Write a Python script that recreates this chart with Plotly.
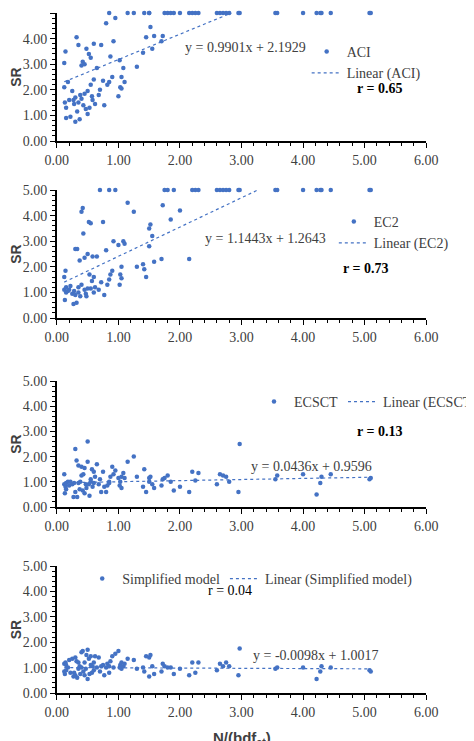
import plotly.graph_objects as go

X = [0.12,0.12,0.13,0.14,0.15,0.15,0.18,0.20,0.22,0.25,
     0.27,0.28,0.30,0.30,0.32,0.33,0.35,0.35,0.37,0.38,
     0.40,0.40,0.42,0.43,0.45,0.45,0.47,0.48,0.50,0.50,
     0.52,0.53,0.55,0.55,0.57,0.58,0.60,0.60,0.62,0.65,
     0.68,0.70,0.72,0.75,0.77,0.80,0.82,0.85,0.85,0.87,
     0.90,0.92,0.95,1.00,1.02,1.03,1.05,1.05,1.08,1.10,
     1.15,1.25,1.30,1.40,1.42,1.45,1.50,1.50,1.52,1.55,
     1.58,1.70,1.72,1.75,1.80,1.85,1.90,2.00,2.15,2.20,
     2.25,2.30,2.60,2.65,2.70,2.75,2.80,2.95,2.97,3.55,
     3.58,4.00,4.22,4.28,4.30,4.45,5.08,5.10]
ACI = [3.05,2.1,1.5,3.5,0.9,1.3,2.3,1.6,0.95,1.95,
       1.6,1.45,0.75,1.7,4.05,1.15,3.75,1.5,0.85,1.8,
       2.95,1.65,3.1,1.4,1.85,3.0,1.25,3.6,1.95,1.05,
       3.4,1.3,3.25,2.2,1.75,1.6,3.8,2.4,1.45,2.85,
       1.8,2.0,3.75,2.35,1.4,4.6,2.2,2.3,5.0,3.3,
       2.5,3.9,4.8,1.75,3.15,2.1,2.5,2.05,2.85,2.3,
       5,5,2.9,3.45,5,4.05,5,5,4.45,3.6,
       4.1,3.9,4.1,5,5,5,5,5,5,5,
       5,5,5,5,5,5,5,5,5,5,
       5,5,5,5,5,5,5,5]
EC2 = [1.6,1.1,0.7,1.85,1.2,1.0,1.05,1.1,1.25,0.95,
       0.55,1.05,2.7,0.9,0.6,2.7,1.0,1.2,2.25,0.85,
       4.15,1.3,4.3,3.3,2.35,1.1,0.95,0.85,2.5,1.15,
       3.75,1.7,3.7,1.15,1.45,2.4,1.0,1.6,1.2,2.4,
       1.1,5.0,1.4,3.75,0.9,2.65,1.3,1.5,5.0,1.7,
       1.85,3.0,5.0,2.85,1.3,1.7,1.55,2.0,3.0,2.9,
       4.5,4.15,2.0,2.1,1.9,1.6,3.5,2.8,3.65,3.2,
       2.2,2.3,4.4,5,5,3.85,5,4.2,2.3,5,
       5,5,5,5,5,5,5,5,5,5,
       5,5,5,5,5,5,5,5]
ECSCT = [1.3,0.9,0.55,0.8,0.95,0.7,1.0,0.85,1.0,0.9,
         0.4,0.95,2.3,0.6,1.85,0.4,1.65,0.95,0.7,1.0,
         1.6,1.25,0.65,1.3,1.55,0.55,0.9,0.75,1.8,2.6,
         0.9,0.45,1.0,1.1,1.5,0.8,1.4,0.95,1.2,1.7,
         0.9,1.1,0.6,1.4,0.8,0.6,0.85,1.0,0.95,1.2,
         1.6,1.3,1.45,1.15,0.85,1.0,1.2,0.75,1.35,1.15,
         1.8,2.0,1.2,0.8,1.5,0.6,1.0,1.15,1.2,0.9,
         0.75,0.85,1.1,1.15,1.25,1.0,0.65,0.8,0.6,1.4,
         1.05,1.35,0.9,1.3,1.25,1.2,1.0,0.6,2.5,1.1,
         1.25,1.3,0.5,0.95,1.2,1.3,1.1,1.15]
SIMP = [1.15,0.85,0.75,1.2,0.9,1.1,1.0,1.3,0.8,1.35,
        0.65,0.8,1.4,0.7,1.25,0.6,1.2,0.95,1.05,0.75,
        1.6,1.0,1.65,0.85,1.2,0.7,0.95,1.5,0.55,1.7,
        1.35,0.75,1.1,1.45,0.8,1.05,1.2,0.9,1.45,1.0,
        1.4,0.85,1.05,1.1,0.7,1.0,1.15,0.8,1.05,1.25,
        1.45,1.0,1.55,1.65,1.0,1.1,1.2,0.95,1.05,1.15,
        1.35,1.3,0.95,1.0,0.85,1.45,0.65,1.4,1.5,1.05,
        0.75,0.85,1.15,1.05,1.0,1.0,0.75,0.95,0.7,1.2,
        0.8,1.2,0.9,1.15,1.05,1.2,1.05,0.7,1.75,0.95,
        1.0,1.0,0.55,0.85,1.05,1.0,0.9,0.85]

NAMES = ["ACI", "EC2", "ECSCT", "Simplified model"]
SLOPES = [0.9901, 1.1443, 0.0436, -0.0098]
INTERCEPTS = [2.1929, 1.2643, 0.9596, 1.0017]
EQ_TEXT = ["y = 0.9901x + 2.1929", "y = 1.1443x + 1.2643",
           "y = 0.0436x + 0.9596", "y = -0.0098x + 1.0017"]
R_TEXT = ["r = 0.65", "r = 0.73", "r = 0.13", "r = 0.04"]
TICKS = [0, 1, 2, 3, 4, 5, 6]
TICKLBL = ["0.00", "1.00", "2.00", "3.00", "4.00", "5.00", "6.00"]
YTICKS = [0, 1, 2, 3, 4, 5]
YLBL = ["0.00", "1.00", "2.00", "3.00", "4.00", "5.00"]
SERIES = [ACI, EC2, ECSCT, SIMP]

W, H = 474, 741
x0p, x1p = 54, 462
panels = [(5, 133), (182, 310), (373, 499), (558, 685)]
BLUE = "#4472C4"
SERIF = "Liberation Serif"

fig = go.Figure()
layout = dict(width=W, height=H, margin=dict(l=0, r=0, t=0, b=0),
              plot_bgcolor="white", paper_bgcolor="white", showlegend=True)

legend_specs = [
    dict(x=330/W, y=1-28/H, orientation="v"),
    dict(x=360/W, y=1-198/H, orientation="v"),
    dict(x=272/W, y=1-378/H, orientation="h"),
    dict(x=82/W, y=1-555/H, orientation="h"),
]
eq_pos = [(262, 40), (285, 230), (335, 459), (340, 647)]
r_pos = [(410, 80), (395, 260), (410, 424), (245, 582)]

for i in range(4):
    sfx = "" if i == 0 else str(i + 1)
    lg = "legend" if i == 0 else "legend" + str(i + 1)
    top, bot = panels[i]
    ys = SERIES[i]
    fig.add_trace(go.Scatter(x=X, y=ys, mode="markers", name=NAMES[i],
                             marker=dict(color=BLUE, size=4.5), cliponaxis=False,
                             xaxis="x" + sfx, yaxis="y" + sfx, legend=lg))
    lx = [min(X), max(X)]
    ly = [SLOPES[i] * v + INTERCEPTS[i] for v in lx]
    if ly[1] > 5:
        lx[1] = (5 - INTERCEPTS[i]) / SLOPES[i]
        ly[1] = 5
    fig.add_trace(go.Scatter(x=lx, y=ly, mode="lines", name="Linear (" + NAMES[i] + ")",
                             line=dict(color=BLUE, width=1.2, dash="dot"),
                             xaxis="x" + sfx, yaxis="y" + sfx, legend=lg))
    layout["xaxis" + sfx] = dict(domain=[x0p/W, x1p/W], range=[0, 6], anchor="y" + sfx,
                                 automargin=False,
                                 tickvals=TICKS, ticktext=TICKLBL, showgrid=False,
                                 showline=True, linecolor="black", linewidth=1.5,
                                 ticks="outside", ticklen=5, tickcolor="black",
                                 minor=dict(ticks="outside", ticklen=3, dtick=0.2, tickcolor="black"),
                                 tickfont=dict(family=SERIF, size=14, color="#404040"), zeroline=False)
    layout["yaxis" + sfx] = dict(domain=[1-bot/H, 1-top/H], range=[0, 5], anchor="x" + sfx,
                                 automargin=False,
                                 tickvals=YTICKS, ticktext=YLBL, showgrid=False,
                                 showline=True, linecolor="black", linewidth=1.5,
                                 ticks="outside", ticklen=5, tickcolor="black",
                                 minor=dict(ticks="outside", ticklen=3, dtick=0.2, tickcolor="black"),
                                 tickfont=dict(family=SERIF, size=14, color="#404040"), zeroline=False,
                                 title=dict(text="<b>SR</b>", standoff=0,
                                            font=dict(family="Liberation Sans", size=14, color="#404040")))
    ls = legend_specs[i]
    layout[lg] = dict(x=ls["x"], y=ls["y"], xanchor="left", yanchor="top",
                      orientation=ls["orientation"], bgcolor="rgba(0,0,0,0)",
                      font=dict(family=SERIF, size=14, color="#404040"),
                      itemwidth=30, tracegroupgap=0, entrywidthmode="pixels")
    fig.add_annotation(x=eq_pos[i][0]/W, y=1-eq_pos[i][1]/H, xref="paper", yref="paper",
                       text=EQ_TEXT[i], showarrow=False, xanchor="center", yanchor="middle",
                       font=dict(family=SERIF, size=14, color="#404040"))
    rt = R_TEXT[i] if i == 3 else "<b>" + R_TEXT[i] + "</b>"
    fig.add_annotation(x=r_pos[i][0]/W, y=1-r_pos[i][1]/H, xref="paper", yref="paper",
                       text=rt, showarrow=False, xanchor="center", yanchor="middle",
                       font=dict(family=SERIF, size=14, color="black"))

fig.add_annotation(x=258/W, y=1-730/H, xref="paper", yref="paper",
                   text="<b>N/(bdf<sub>ct</sub>)</b>", showarrow=False, yanchor="middle",
                   font=dict(family="Liberation Sans", size=15, color="#404040"))
fig.update_layout(**layout)
fig.write_html("out.html")
